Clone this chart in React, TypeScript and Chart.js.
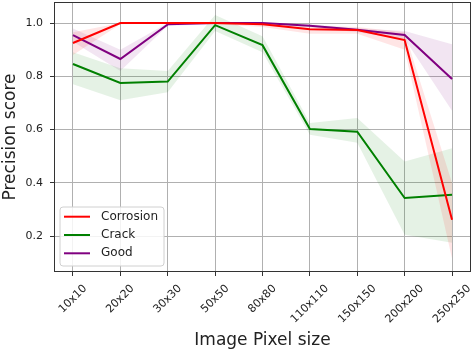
import React, { useEffect, useRef } from "react";
import { Chart, registerables } from "chart.js";

Chart.register(...registerables);

const categories = ["10x10", "20x20", "30x30", "50x50", "80x80", "110x110", "150x150", "200x200", "250x250"];

const corrosion = [0.925, 1.0, 1.0, 1.0, 0.995, 0.977, 0.974, 0.936, 0.261];
const corrosionLow = [0.88, 0.995, 0.998, 0.995, 0.985, 0.96, 0.96, 0.9, 0.115];
const corrosionHigh = [0.965, 1.0, 1.0, 1.0, 1.0, 0.99, 0.985, 0.965, 0.4];

const crack = [0.846, 0.775, 0.78, 0.992, 0.917, 0.602, 0.592, 0.343, 0.355];
const crackLow = [0.77, 0.71, 0.74, 0.97, 0.89, 0.58, 0.55, 0.205, 0.175];
const crackHigh = [0.89, 0.83, 0.82, 1.03, 0.95, 0.625, 0.643, 0.48, 0.53];

const good = [0.955, 0.865, 0.995, 1.0, 1.0, 0.99, 0.975, 0.955, 0.79];
const goodLow = [0.93, 0.82, 0.99, 0.995, 0.995, 0.985, 0.965, 0.94, 0.67];
const goodHigh = [0.98, 0.9, 1.0, 1.0, 1.0, 0.995, 0.98, 0.97, 0.92];

const yTicks = [0.2, 0.4, 0.6, 0.8, 1.0];

const seriesNames = ["Corrosion", "Crack", "Good"];
const seriesColors = ["#ff0000", "#008000", "#800080"];
const bandColors = ["rgba(255,0,0,0.1)", "rgba(0,128,0,0.1)", "rgba(128,0,128,0.1)"];

const FONT = "'DejaVu Sans', sans-serif";

const pts = (arr: number[]) => arr.map((v, i) => ({ x: i, y: v }));

export default function App() {
  const ref = useRef<HTMLCanvasElement | null>(null);

  useEffect(() => {
    document.body.style.margin = "0";
    const canvas = ref.current;
    if (!canvas) return;

    const mains = [corrosion, crack, good];
    const lows = [corrosionLow, crackLow, goodLow];
    const highs = [corrosionHigh, crackHigh, goodHigh];

    const datasets: any[] = [];
    mains.forEach((m, k) => {
      datasets.push({
        label: seriesNames[k],
        data: pts(m),
        borderColor: seriesColors[k],
        borderWidth: 2,
        pointRadius: 0,
        fill: false,
        tension: 0,
        order: 0,
      });
    });
    lows.forEach((lo, k) => {
      datasets.push({
        label: seriesNames[k] + " low",
        data: pts(lo),
        borderWidth: 0,
        borderColor: "rgba(0,0,0,0)",
        pointRadius: 0,
        fill: false,
        order: 1,
      });
      datasets.push({
        label: seriesNames[k] + " high",
        data: pts(highs[k]),
        borderWidth: 0,
        borderColor: "rgba(0,0,0,0)",
        backgroundColor: bandColors[k],
        pointRadius: 0,
        fill: "-1",
        order: 1,
      });
    });

    const overlay = {
      id: "overlay",
      afterDraw(chart: any) {
        const ctx = chart.ctx;
        const a = chart.chartArea;
        const xs = chart.scales.x;
        ctx.save();
        // spines
        ctx.strokeStyle = "#333";
        ctx.lineWidth = 1;
        ctx.strokeRect(Math.round(a.left) + 0.5, Math.round(a.top) + 0.5, Math.round(a.right - a.left) - 1, Math.round(a.bottom - a.top) - 1);
        // x tick labels, rotated 45, centered on tick
        ctx.font = "11px " + FONT;
        ctx.fillStyle = "#222";
        ctx.textAlign = "center";
        ctx.textBaseline = "middle";
        categories.forEach((lab, i) => {
          const x = xs.getPixelForValue(i);
          const w = ctx.measureText(lab).width;
          const cy = a.bottom + 11 + ((w + 11) * Math.SQRT1_2) / 2;
          ctx.save();
          ctx.translate(x, cy);
          ctx.rotate(-Math.PI / 4);
          ctx.fillText(lab, 0, 0);
          ctx.restore();
        });
        // legend
        const lx = 60, ly = 207, lw = 104, lh = 59, r = 3;
        ctx.beginPath();
        ctx.moveTo(lx + r, ly);
        ctx.lineTo(lx + lw - r, ly);
        ctx.arcTo(lx + lw, ly, lx + lw, ly + r, r);
        ctx.lineTo(lx + lw, ly + lh - r);
        ctx.arcTo(lx + lw, ly + lh, lx + lw - r, ly + lh, r);
        ctx.lineTo(lx + r, ly + lh);
        ctx.arcTo(lx, ly + lh, lx, ly + lh - r, r);
        ctx.lineTo(lx, ly + r);
        ctx.arcTo(lx, ly, lx + r, ly, r);
        ctx.closePath();
        ctx.fillStyle = "rgba(255,255,255,0.85)";
        ctx.fill();
        ctx.strokeStyle = "#d0d0d0";
        ctx.stroke();
        ctx.font = "12px " + FONT;
        ctx.textAlign = "left";
        ctx.textBaseline = "middle";
        seriesNames.forEach((name, k) => {
          const y = 216.7 + k * 18.3;
          ctx.strokeStyle = seriesColors[k];
          ctx.lineWidth = 2;
          ctx.beginPath();
          ctx.moveTo(64, y);
          ctx.lineTo(90, y);
          ctx.stroke();
          ctx.fillStyle = "#222";
          ctx.fillText(name, 101, y);
        });
        ctx.restore();
      },
    };

    const chart = new Chart(canvas, {
      type: "line",
      data: { datasets },
      options: {
        animation: false,
        responsive: false,
        devicePixelRatio: 1,
        layout: { padding: { top: 2, right: 3, left: 0, bottom: 0 } },
        plugins: {
          legend: { display: false },
          tooltip: { enabled: false },
        },
        scales: {
          x: {
            type: "linear",
            min: -0.4,
            max: 8.4,
            afterBuildTicks: (s: any) => {
              s.ticks = categories.map((_, i) => ({ value: i }));
            },
            afterFit: (s: any) => {
              s.height = 80;
              s.paddingLeft = 0;
              s.paddingRight = 0;
              s.paddingTop = 0;
              s.paddingBottom = 0;
            },
            ticks: { display: false },
            grid: { color: "#b0b0b0", lineWidth: 1, drawTicks: true, tickLength: 4, tickColor: "#333" },
            border: { display: false },
            title: {
              display: true,
              text: "Image Pixel size",
              font: { size: 17, family: FONT },
              color: "#222",
              padding: { top: 0, bottom: 1 },
            },
          },
          y: {
            type: "linear",
            min: 0.065,
            max: 1.079,
            afterBuildTicks: (s: any) => {
              s.ticks = yTicks.map((v) => ({ value: v }));
            },
            afterFit: (s: any) => {
              s.width = 54;
              s.paddingTop = 0;
              s.paddingBottom = 0;
              s.paddingLeft = 0;
              s.paddingRight = 0;
            },
            ticks: {
              padding: 7,
              font: { size: 11, family: FONT },
              color: "#222",
              callback: (v: any) => Number(v).toFixed(1),
            },
            grid: { color: "#b0b0b0", lineWidth: 1, drawTicks: true, tickLength: 4, tickColor: "#333" },
            border: { display: false },
            title: {
              display: true,
              text: "Precision score",
              font: { size: 17, family: FONT },
              color: "#222",
              padding: { top: 0, bottom: 0 },
            },
          },
        },
      },
      plugins: [overlay],
    });

    return () => chart.destroy();
  }, []);

  return <canvas ref={ref} width={474} height={352} style={{ display: "block" }} />;
}
